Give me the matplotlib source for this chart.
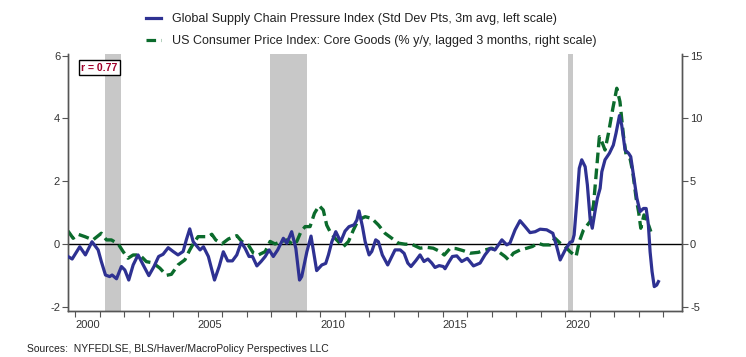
import matplotlib
matplotlib.use("Agg")
import matplotlib.pyplot as plt
from matplotlib.lines import Line2D

plt.rcParams['font.family'] = ['Liberation Sans', 'DejaVu Sans']
plt.rcParams['axes.unicode_minus'] = False

# GSCPI, std dev pts (left scale); x in decimal years
gscpi_x = [1999.71, 1999.88, 2000.19, 2000.42, 2000.69, 2000.94, 2001.07, 2001.24, 2001.41, 2001.51,
           2001.69, 2001.89, 2002.03, 2002.19, 2002.37, 2002.57, 2002.78, 2003.01, 2003.22, 2003.41,
           2003.59, 2003.80, 2004.00, 2004.20, 2004.41, 2004.54, 2004.68, 2004.82, 2004.95, 2005.10,
           2005.24, 2005.44, 2005.69, 2005.88, 2006.05, 2006.23, 2006.42, 2006.60, 2006.78, 2006.94,
           2007.10, 2007.24, 2007.42, 2007.59, 2007.76, 2007.92, 2008.09, 2008.27, 2008.50, 2008.64,
           2008.84, 2009.01, 2009.16, 2009.25, 2009.46, 2009.63, 2009.86, 2010.07, 2010.23, 2010.34,
           2010.48, 2010.64, 2010.84, 2011.02, 2011.18, 2011.39, 2011.50, 2011.59, 2011.73, 2011.84,
           2012.00, 2012.11, 2012.27, 2012.38, 2012.54, 2012.76, 2012.93, 2013.06, 2013.27, 2013.43,
           2013.58, 2013.71, 2013.90, 2014.08, 2014.24, 2014.40, 2014.56, 2014.69, 2014.86, 2015.03,
           2015.10, 2015.27, 2015.40, 2015.58, 2015.78, 2016.01, 2016.26, 2016.53, 2016.73, 2016.94,
           2017.14, 2017.42, 2017.62, 2017.75, 2017.96, 2018.16, 2018.37, 2018.57, 2018.78, 2018.98,
           2019.25, 2019.50, 2019.66, 2019.80, 2020.00, 2020.20, 2020.30, 2020.37, 2020.48, 2020.58,
           2020.68, 2020.82, 2020.91, 2021.02, 2021.11, 2021.22, 2021.32, 2021.43, 2021.50, 2021.63,
           2021.81, 2021.97, 2022.08, 2022.22, 2022.31, 2022.45, 2022.59, 2022.68, 2022.79, 2022.93,
           2023.06, 2023.20, 2023.31, 2023.40, 2023.47, 2023.55, 2023.64, 2023.74, 2023.81]
gscpi_y = [-0.40, -0.48, -0.09, -0.35, 0.07, -0.19, -0.56, -0.99, -1.04, -0.99,
           -1.11, -0.72, -0.83, -1.15, -0.67, -0.35, -0.67, -1.01, -0.72, -0.40,
           -0.33, -0.12, -0.24, -0.35, -0.24, 0.13, 0.48, 0.07, -0.05, -0.19,
           -0.09, -0.40, -1.15, -0.72, -0.25, -0.54, -0.54, -0.35, 0.05, -0.14,
           -0.40, -0.40, -0.70, -0.56, -0.40, -0.19, -0.40, -0.19, 0.18, 0.02,
           0.39, -0.14, -1.15, -1.04, -0.25, 0.25, -0.85, -0.67, -0.62, -0.35,
           0.07, 0.39, 0.07, 0.41, 0.55, 0.61, 0.76, 1.05, 0.55, 0.07,
           -0.35, -0.24, 0.13, 0.07, -0.35, -0.67, -0.40, -0.19, -0.19, -0.30,
           -0.61, -0.72, -0.54, -0.35, -0.56, -0.48, -0.61, -0.75, -0.69, -0.72,
           -0.79, -0.56, -0.40, -0.38, -0.56, -0.46, -0.70, -0.61, -0.35, -0.14,
           -0.19, 0.13, -0.03, 0.03, 0.45, 0.74, 0.55, 0.36, 0.39, 0.47,
           0.45, 0.34, -0.09, -0.51, -0.20, 0.05, 0.08, 0.29, 1.35, 2.41,
           2.68, 2.46, 1.88, 0.82, 0.50, 1.03, 1.46, 1.77, 2.30, 2.68,
           2.89, 3.15, 3.53, 4.09, 3.79, 2.99, 2.89, 2.78, 2.20, 1.46,
           1.03, 1.13, 1.13, 0.61, -0.25, -0.88, -1.36, -1.31, -1.20]

# US CPI core goods, % y/y lagged 3 months (right scale)
cpi_x = [1999.71, 1999.92, 2000.12, 2000.40, 2000.73, 2001.07, 2001.28, 2001.48, 2001.76, 2001.96,
         2002.16, 2002.37, 2002.64, 2002.91, 2003.18, 2003.46, 2003.73, 2003.93, 2004.20, 2004.48,
         2004.68, 2004.82, 2005.02, 2005.17, 2005.44, 2005.58, 2005.74, 2005.99, 2006.26, 2006.60,
         2006.80, 2007.07, 2007.28, 2007.48, 2007.76, 2007.96, 2008.16, 2008.44, 2008.65, 2008.91,
         2009.05, 2009.22, 2009.39, 2009.59, 2009.77, 2009.96, 2010.13, 2010.27, 2010.40, 2010.61,
         2010.95, 2011.16, 2011.36, 2011.56, 2011.84, 2012.11, 2012.38, 2012.65, 2012.93, 2013.20,
         2013.47, 2013.74, 2014.08, 2014.35, 2014.62, 2014.90, 2015.07, 2015.31, 2015.55, 2015.85,
         2016.12, 2016.46, 2016.73, 2017.01, 2017.28, 2017.55, 2017.69, 2017.89, 2018.16, 2018.44,
         2018.67, 2018.88, 2019.11, 2019.39, 2019.59, 2019.80, 2020.00, 2020.20, 2020.45, 2020.58,
         2020.75, 2021.02, 2021.16, 2021.29, 2021.40, 2021.50, 2021.63, 2021.77, 2021.95, 2022.11,
         2022.24, 2022.38, 2022.49, 2022.65, 2022.76, 2022.90, 2023.00, 2023.09, 2023.22, 2023.36,
         2023.50]
cpi_y = [1.03, 0.45, 0.77, 0.58, 0.32, 0.85, 0.32, 0.32, 0.0, -0.61,
         -1.14, -0.88, -0.88, -1.41, -1.51, -1.93, -2.50, -2.42, -1.67, -1.27,
         -0.48, 0.0, 0.58, 0.58, 0.58, 0.77, 0.32, 0.0, 0.40, 0.66,
         0.20, -0.08, -0.74, -0.88, -0.61, 0.20, 0.0, 0.20, 0.32, -0.08,
         0.20, 0.98, 1.38, 1.38, 2.44, 3.05, 2.70, 1.50, 1.00, 0.45,
         -0.22, 0.20, 1.11, 1.91, 2.17, 2.03, 1.51, 0.85, 0.45, 0.06,
         -0.02, -0.02, -0.34, -0.27, -0.34, -0.61, -0.88, -0.34, -0.37, -0.54,
         -0.74, -0.67, -0.48, -0.34, -0.61, -1.00, -1.27, -0.74, -0.48, -0.34,
         -0.20, 0.06, -0.08, -0.08, 0.45, 0.06, -0.20, -0.61, -1.00, 0.19,
         1.11, 1.78, 3.10, 6.03, 8.54, 8.14, 7.48, 8.81, 10.80, 12.40,
         11.33, 8.68, 7.09, 6.82, 5.76, 3.64, 2.57, 1.25, 2.31, 1.78,
         0.98]

recessions = [(2001.21, 2001.87), (2007.96, 2009.46), (2020.13, 2020.31)]
label_years = [2000, 2005, 2010, 2015, 2020]

blue = '#2E3192'
green = '#0B6B2C'
axis_grey = '#555555'

fig = plt.figure(figsize=(7.46, 3.57), dpi=100)
ax = fig.add_axes([0.0918, 0.1297, 0.822, 0.7193])
ax2 = ax.twinx()

# bands and the green line sit on the back axes, the blue line on the front one
for start, end in recessions:
    ax2.axvspan(start, end, color='#C8C8C8', lw=0, zorder=0)
ax2.axhline(0, color='black', lw=1, zorder=1)
ax2.plot(cpi_x, cpi_y, color=green, lw=2.4, dashes=(3.2, 1.6), zorder=3)
ax.plot(gscpi_x, gscpi_y, color=blue, lw=2.3, solid_joinstyle='round', zorder=4)

ax.set_zorder(ax2.get_zorder() + 1)
ax.patch.set_visible(False)

ax.set_xlim(1999.73, 2024.76)
ax.set_ylim(-2.127, 6.054)
ax2.set_ylim(-2.127 * 2.5, 6.054 * 2.5)
ax.set_yticks([-2, 0, 2, 4, 6])
ax2.set_yticks([-5, 0, 5, 10, 15])

ax.set_xticks(range(2000, 2025))
ax.set_xticklabels([])
ax.set_xticks([y + 0.5 for y in label_years], minor=True)
ax.set_xticklabels([str(y) for y in label_years], minor=True)
ax.tick_params(axis='x', which='major', length=4, color=axis_grey, direction='out')
ax.tick_params(axis='x', which='minor', length=0, labelsize=8, labelcolor='#333333', pad=7)
ax.tick_params(axis='y', length=4, color=axis_grey, labelsize=8, labelcolor='#333333', pad=2)
ax2.tick_params(axis='y', length=4, color=axis_grey, labelsize=8, labelcolor='#333333', pad=2)

for a in (ax, ax2):
    a.spines['top'].set_visible(False)
    for s in ('left', 'right', 'bottom'):
        a.spines[s].set_color(axis_grey)
        a.spines[s].set_linewidth(1)

ax.text(0.05, 0.947, 'r = 0.77', transform=ax.transAxes, ha='center', va='center',
        fontsize=7.5, fontweight='bold', color='#A0002A',
        bbox=dict(boxstyle='square,pad=0.22', facecolor='white', edgecolor='black', lw=1))

handles = [Line2D([], [], color=blue, lw=2.3),
           Line2D([], [], color=green, lw=2.3, dashes=(3, 1.6))]
labels = ['Global Supply Chain Pressure Index (Std Dev Pts, 3m avg, left scale)',
          'US Consumer Price Index: Core Goods (% y/y, lagged 3 months, right scale)']
fig.legend(handles, labels, loc='upper left', bbox_to_anchor=(0.18, 0.995), frameon=False,
           fontsize=9, handlelength=1.2, handletextpad=0.9, labelspacing=0.8,
           labelcolor='#222222')

fig.text(0.036, 0.015, 'Sources:  NYFEDLSE, BLS/Haver/MacroPolicy Perspectives LLC',
         fontsize=7.5, color='#222222')

fig.savefig('out.png', dpi=100)
